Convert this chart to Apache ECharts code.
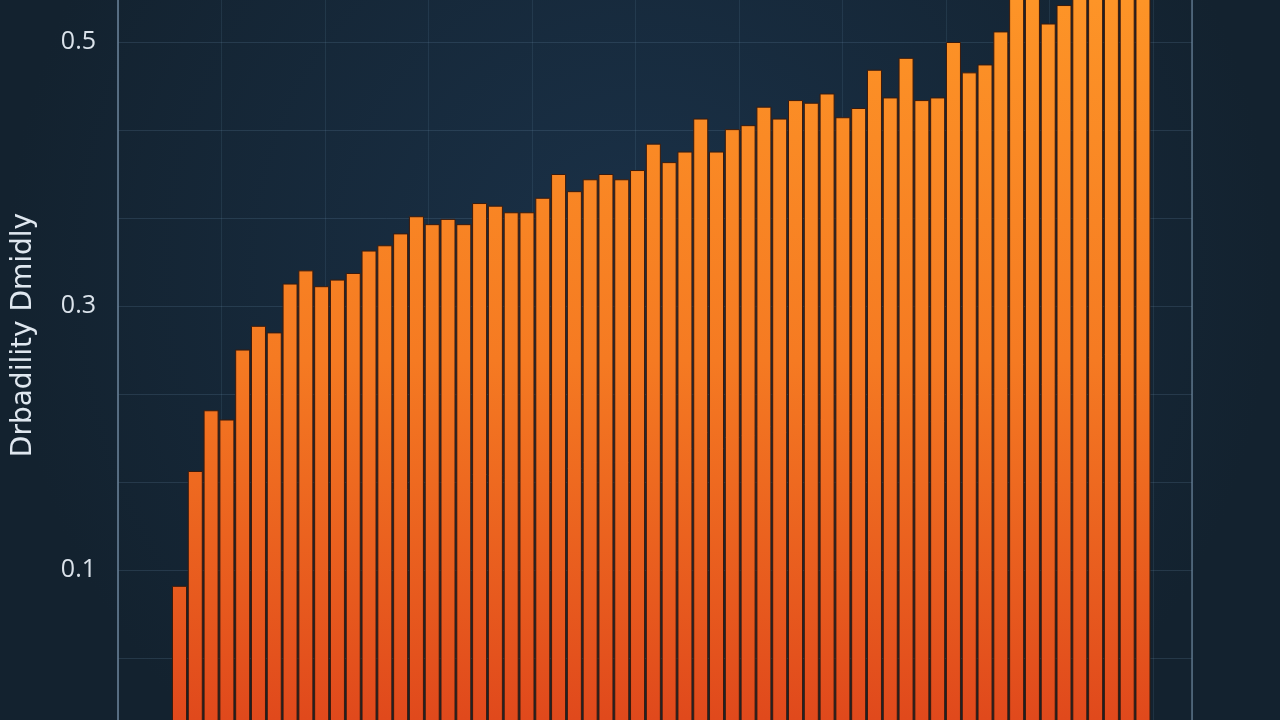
<!DOCTYPE html>
<html>
<head>
<meta charset="utf-8">
<script src="https://cdn.jsdelivr.net/npm/echarts@6/dist/echarts.min.js"></script>
<style>
  html, body { margin: 0; padding: 0; background: #152638; overflow: hidden; width: 1280px; height: 720px; }
  #chart { position: absolute; left: 0; top: -46px; width: 1280px; height: 792px; }
</style>
</head>
<body>
<div id="chart"></div>
<script>
// ---- data ----
const barValues = [
  0.088, 0.175, 0.221, 0.214, 0.267, 0.285, 0.280, 0.317, 0.327, 0.315,
  0.320, 0.325, 0.342, 0.346, 0.355, 0.368, 0.362, 0.366, 0.362, 0.378,
  0.376, 0.371, 0.371, 0.382, 0.400, 0.387, 0.396, 0.400, 0.396, 0.403,
  0.423, 0.409, 0.417, 0.442, 0.417, 0.434, 0.437, 0.451, 0.442, 0.456,
  0.454, 0.461, 0.443, 0.450, 0.479, 0.458, 0.488, 0.456, 0.458, 0.500,
  0.477, 0.483, 0.508, 0.545, 0.550, 0.514, 0.528, 0.550, 0.555, 0.560,
  0.560, 0.565
];
const yTickLabels = ['0.1', '0.3', '0.5'];
const yAxisTitle = 'Drbadility Dmidly';

// axis settings
const yStep = 1 / 15;
const yMin = -1 / 30;
const yMax = 17 / 30;

const barData = barValues.map((v, i) => [i, v]);

const chart = echarts.init(document.getElementById('chart'), null, { renderer: 'canvas' });

chart.setOption({
  animation: false,
  backgroundColor: {
    type: 'radial', x: 0.5, y: 0.4, r: 0.8,
    colorStops: [
      { offset: 0, color: '#1a3148' },
      { offset: 1, color: '#13222f' }
    ]
  },
  grid: {
    left: 118, right: 88, top: 0, bottom: 0,
    show: true,
    borderColor: '#5b7287',
    borderWidth: 1.5,
    backgroundColor: 'transparent'
  },
  xAxis: [
    {
      type: 'value', position: 'bottom',
      min: 0, max: 1074 / 103.5, interval: 1,
      axisLine: { show: false }, axisTick: { show: false }, axisLabel: { show: false },
      splitLine: { show: true, lineStyle: { color: 'rgba(110,145,175,0.15)', width: 1 } }
    },
    {
      type: 'value', position: 'top',
      min: (118 - 179.5) / 15.795, max: (1192 - 179.5) / 15.795,
      axisLine: { show: false }, axisTick: { show: false }, axisLabel: { show: false },
      splitLine: { show: false }
    }
  ],
  yAxis: {
    type: 'value',
    min: yMin, max: yMax, interval: yStep,
    startValue: yMin,
    axisLine: { show: true, lineStyle: { color: '#5b7287', width: 1.5 } },
    axisTick: { show: false },
    axisLabel: {
      margin: 22,
      fontSize: 25,
      fontFamily: 'Open Sans',
      color: '#dbe3eb',
      showMinLabel: false, showMaxLabel: false,
      formatter: function (v) {
        for (const t of yTickLabels) {
          if (Math.abs(Number(t) - v) < 1e-6) return t;
        }
        return '';
      }
    },
    splitLine: { show: true, lineStyle: { color: 'rgba(110,145,175,0.2)', width: 1 } },
    name: yAxisTitle,
    nameLocation: 'middle',
    nameRotate: 90,
    nameGap: 80,
    nameTextStyle: {
      fontSize: 28,
      fontFamily: 'DejaVu Sans',
      color: '#dfe7ef',
      padding: [0, 0, 0, 30]
    }
  },
  series: [{
    type: 'bar',
    xAxisIndex: 1,
    yAxisIndex: 0,
    data: barData,
    barWidth: 15,
    clip: true,
    itemStyle: {
      color: {
        type: 'linear', x: 0, y: 46, x2: 0, y2: 766, global: true,
        colorStops: [
          { offset: 0, color: '#fd9427' },
          { offset: 0.5, color: '#f57a22' },
          { offset: 1, color: '#e0491c' }
        ]
      },
      borderColor: '#3a1a0c',
      borderWidth: 1
    }
  }]
});
</script>
</body>
</html>
